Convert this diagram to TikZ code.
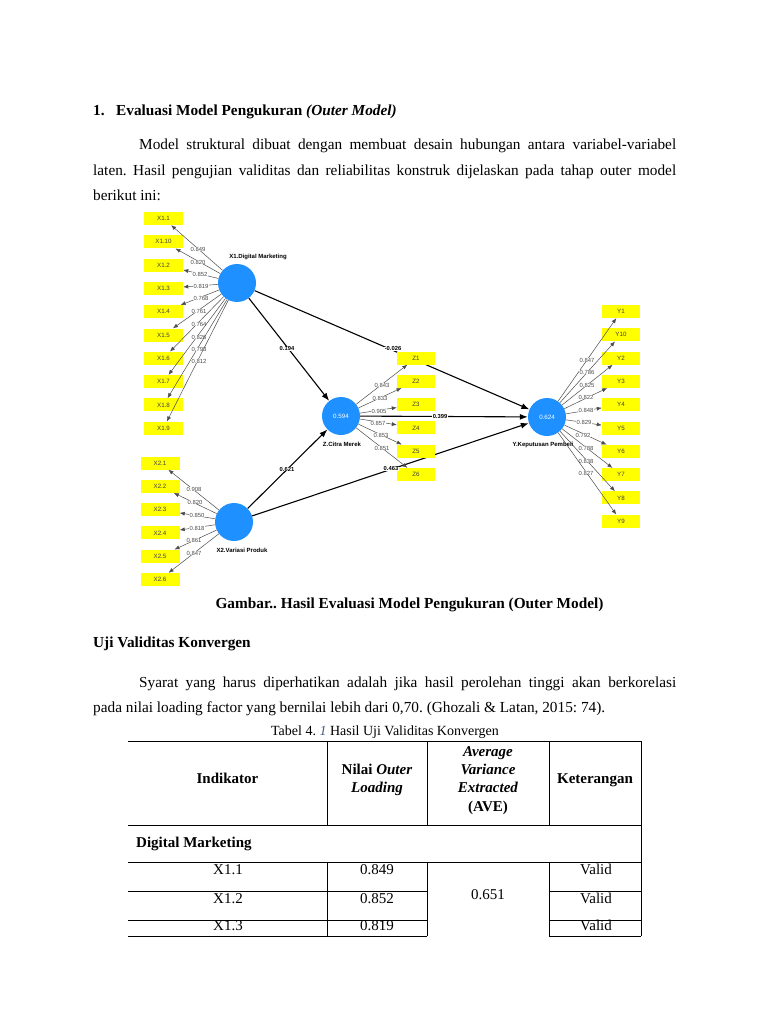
\documentclass[tikz,border=0pt]{standalone}
\usepackage{fontspec}
\setmainfont{Liberation Serif}
\newfontfamily\dsans{Liberation Sans}
\usetikzlibrary{arrows.meta,backgrounds}
\definecolor{plsblue}{RGB}{30,144,255}
\definecolor{plsyellow}{RGB}{255,255,0}
\definecolor{capblue}{RGB}{70,90,130}
\frenchspacing
\begin{document}
\begin{tikzpicture}[x=1pt,y=-1pt,
  txt/.style={inner sep=0pt,font=\fontsize{15.3}{18}\selectfont},
  tcaption/.style={inner sep=0pt,font=\fontsize{14}{16}\selectfont},
  ind/.style={fill=plsyellow,minimum width=39pt,minimum height=13pt,inner sep=0pt,text=black!75,font=\dsans\fontsize{6.2}{7}\selectfont},
  lv/.style={circle,fill=plsblue,minimum size=38pt,inner sep=0pt,text=white,font=\dsans\fontsize{6.2}{7}\selectfont},
  lvn/.style={inner sep=0pt,font=\dsans\bfseries\fontsize{6}{7}\selectfont},
  ld/.style={draw=black!70,line width=0.5pt,-{Latex[length=5pt,width=4pt]}},
  st/.style={draw=black,line width=1.1pt,-{Latex[length=8pt,width=6pt]}},
  lab/.style={inner sep=0.3pt,fill=white,text=black!70,font=\dsans\fontsize{5.9}{7}\selectfont},
  slab/.style={inner sep=0.3pt,fill=white,text=black,font=\dsans\bfseries\fontsize{5.8}{7}\selectfont},
  tb/.style={draw=black,line width=0.9pt},
  th/.style={inner sep=0pt,anchor=base,font=\fontsize{15}{18}\selectfont\bfseries},
  td/.style={inner sep=0pt,anchor=base,font=\fontsize{15}{18}\selectfont}
]
\useasboundingbox (0,0) rectangle (768,1024);

% ---------- text above the figure ----------
\node[txt,anchor=base west] (hnum) at (93,115.7) {\textbf{1.}};
\node[txt,anchor=base west] (htitle) at (116,115.7) {\textbf{Evaluasi Model Pengukuran \textit{(Outer Model)}}};
\node[txt,anchor=base west] (p1) at (139,150) {\makebox[537pt][s]{Model struktural dibuat dengan membuat desain hubungan antara variabel-variabel}};
\node[txt,anchor=base west] (p2) at (93,176) {\makebox[583pt][s]{laten. Hasil pengujian validitas dan reliabilitas konstruk dijelaskan pada tahap outer model}};
\node[txt,anchor=base west] (p3) at (93,201) {berikut ini:};

% ---------- latent variables ----------
\node[lv] (x1) at (237,283) {};
\node[lv] (x2) at (234,522) {};
\node[lv] (z) at (341,416) {0.594};
\node[lv] (y) at (547,417) {0.624};
\node[lvn] (nx1) at (258,257) {X1.Digital Marketing};
\node[lvn] (nz) at (342,444) {Z.Citra Merek};
\node[lvn] (nx2) at (242,550) {X2.Variasi Produk};

% ---------- indicators ----------
\foreach \n/\t/\yy in {a1/X1.1/218.5, a10/X1.10/241.8, a2/X1.2/265.1, a3/X1.3/288.4, a4/X1.4/311.7, a5/X1.5/335, a6/X1.6/358.3, a7/X1.7/381.6, a8/X1.8/404.9, a9/X1.9/428.2}
  \node[ind] (\n) at (163.5,\yy) {\t};
\foreach \n/\t/\yy in {b1/X2.1/463, b2/X2.2/486.3, b3/X2.3/509.6, b4/X2.4/532.9, b5/X2.5/556.2, b6/X2.6/579.5}
  \node[ind] (\n) at (160,\yy) {\t};
\foreach \n/\t/\yy in {c1/Z1/358, c2/Z2/381.3, c3/Z3/404.6, c4/Z4/427.9, c5/Z5/451.2, c6/Z6/474.5}
  \node[ind,minimum width=38pt] (\n) at (416,\yy) {\t};
\foreach \n/\t/\yy in {d1/Y1/311.5, d10/Y10/334.8, d2/Y2/358.1, d3/Y3/381.4, d4/Y4/404.7, d5/Y5/428, d6/Y6/451.3, d7/Y7/474.6, d8/Y8/497.9, d9/Y9/521.2}
  \node[ind,minimum width=38pt] (\n) at (621,\yy) {\t};

% ---------- structural paths (behind indicator boxes) ----------
\begin{pgfonlayer}{background}
\fill[white] (0,0) rectangle (768,1024);
\draw[st] (x1) -- (z);
\draw[st] (x1) -- (y);
\draw[st] (x2) -- (z);
\draw[st] (x2) -- (y);
\draw[st] (z) -- (y);
\node[lvn] (ny) at (543,445) {Y.Keputusan Pembeli};
\end{pgfonlayer}
\node[slab] (s1) at (287,349) {0.194};
\node[slab] (s2) at (393,349) {-0.026};
\node[slab] (s3) at (287,469) {0.621};
\node[slab] (s4) at (391,469) {0.463};
\node[slab] (s5) at (440,416.3) {0.399};

% ---------- outer loadings ----------
\foreach \n/\v/\lx/\ly in {a1/0.849/198/249, a10/0.820/198/262, a2/0.852/200/274, a3/0.819/201/286, a4/0.768/201/298, a5/0.761/199/311, a6/0.764/199/324, a7/0.826/199/337, a8/0.793/199/349, a9/0.812/199/361}
  {\draw[ld] (x1) -- (\n); \node[lab] (l\n) at (\lx,\ly) {\v};}
\foreach \n/\v/\lx/\ly in {b1/0.908/194/489, b2/0.820/195/502, b3/0.850/197/515, b4/0.818/197/528, b5/0.861/194/540, b6/0.847/194/553}
  {\draw[ld] (x2) -- (\n); \node[lab] (l\n) at (\lx,\ly) {\v};}
\foreach \n/\v/\lx/\ly in {c1/0.843/382/385, c2/0.833/380/398, c3/0.905/379/411, c4/0.857/378/423, c5/0.853/381/435, c6/0.851/382/448}
  {\draw[ld] (z) -- (\n); \node[lab] (l\n) at (\lx,\ly) {\v};}
\foreach \n/\v/\lx/\ly in {d1/0.847/587/360, d10/0.786/587/372, d2/0.825/587/385, d3/0.822/586/397, d4/0.848/586/410, d5/0.829/584/422, d6/0.792/583/435, d7/0.788/586/448, d8/0.838/586/461, d9/0.827/586/473}
  {\draw[ld] (y) -- (\n); \node[lab] (l\n) at (\lx,\ly) {\v};}

% ---------- text below the figure ----------
\node[txt,anchor=base] (fig) at (409.5,608) {\textbf{Gambar.. Hasil Evaluasi Model Pengukuran (Outer Model)}};
\node[txt,anchor=base west] (uji) at (93,647) {\textbf{Uji Validitas Konvergen}};
\node[txt,anchor=base west] (q1) at (139,687) {\makebox[537pt][s]{Syarat yang harus diperhatikan adalah jika hasil perolehan tinggi akan berkorelasi}};
\node[txt,anchor=base west] (q2) at (93,712) {pada nilai loading factor yang bernilai lebih dari 0,70. (Ghozali \& Latan, 2015: 74).};
\node[tcaption,anchor=base] (tcap) at (385,735.5) {Tabel 4. {\color{capblue}\textit{1}} Hasil Uji Validitas Konvergen};

% ---------- table ----------
\draw[tb] (128,741) -- (641,741);
\draw[tb] (327,741) -- (327,825);
\draw[tb] (427,741) -- (427,825);
\draw[tb] (549,741) -- (549,825);
\draw[tb] (641,741) -- (641,936);
\draw[tb] (128,825) -- (641,825);
\draw[tb] (128,862) -- (641,862);
\draw[tb] (327,862) -- (327,936);
\draw[tb] (427,862) -- (427,936);
\draw[tb] (549,862) -- (549,936);
\foreach \yy in {891,920,936} {
  \draw[tb] (128,\yy) -- (427,\yy);
  \draw[tb] (549,\yy) -- (641,\yy);
}
\node[th] (hind) at (227.5,783) {Indikator};
\node[th] (hnil1) at (377,774) {Nilai \textit{Outer}};
\node[th] (hnil2) at (377,792) {\textit{Loading}};
\node[th] (have1) at (488,756) {\textit{Average}};
\node[th] (have2) at (488,774) {\textit{Variance}};
\node[th] (have3) at (488,792) {\textit{Extracted}};
\node[th] (have4) at (488,811) {(AVE)};
\node[th] (hket) at (595,783) {Keterangan};
\node[th,anchor=base west] (dm) at (136,847) {Digital Marketing};
\node[td] (r1a) at (228,874) {X1.1};
\node[td] (r1b) at (377,874) {0.849};
\node[td] (r1d) at (596,874) {Valid};
\node[td] (r2a) at (228,903) {X1.2};
\node[td] (r2b) at (377,903) {0.852};
\node[td] (r2d) at (596,903) {Valid};
\node[td] (r3a) at (228,930) {X1.3};
\node[td] (r3b) at (377,930) {0.819};
\node[td] (r3d) at (596,930) {Valid};
\node[td] (ave) at (488,899) {0.651};
\end{tikzpicture}
\end{document}
